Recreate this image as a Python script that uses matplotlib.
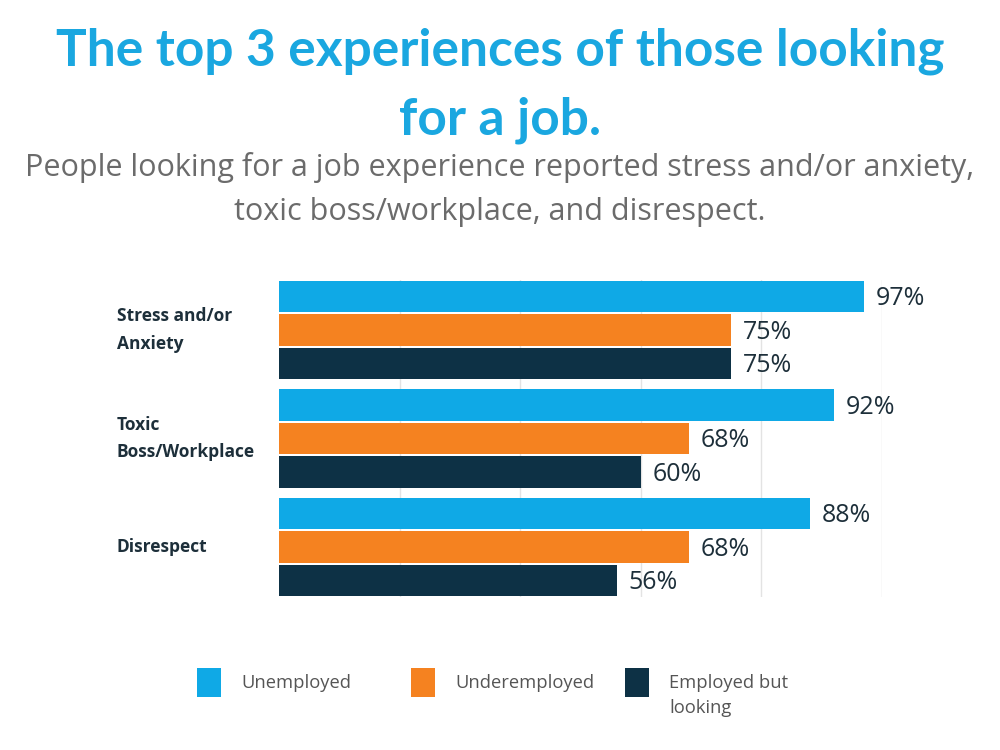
import numpy as np
import matplotlib.pyplot as plt
import matplotlib.transforms as mtransforms
from matplotlib.patches import Rectangle

categories = ["Stress and/or\nAnxiety", "Toxic\nBoss/Workplace", "Disrespect"]
series = ["Unemployed", "Underemployed", "Employed but\nlooking"]
unemployed = [97, 92, 88]
underemployed = [75, 68, 68]
employed_looking = [75, 60, 56]
colors = ["#0fa9e6", "#f58220", "#0d3145"]

values = [unemployed, underemployed, employed_looking]

fig = plt.figure(figsize=(10, 7.5), dpi=100)
ax = fig.add_axes([0.279, 0.204, 0.603, 0.4227])

y = np.arange(len(categories))
offsets = [-0.31, 0.0, 0.31]
h = 0.29
for vals, off, c in zip(values, offsets, colors):
    bars = ax.barh(y + off, vals, height=h, color=c, zorder=3)
    for b, v in zip(bars, vals):
        ax.text(b.get_width() + 2.0, b.get_y() + b.get_height() / 2 + 0.02, f"{v}%",
                va="center", ha="left", fontsize=18, color="#1d2f3a",
                family="Open Sans", zorder=4)

ax.set_xlim(0, 100)
ax.set_ylim(2.46, -0.46)
ax.set_xticks([20, 40, 60, 80, 100])
ax.grid(axis="x", color="#e3e3e3", linewidth=1, zorder=0)
ax.tick_params(left=False, bottom=False, labelleft=False, labelbottom=False)
for s in ax.spines.values():
    s.set_visible(False)

# category labels: x in figure coords, y in data coords
trans = mtransforms.blended_transform_factory(fig.transFigure, ax.transData)
for yi, cat in zip(y, categories):
    ax.text(0.117, yi, cat, transform=trans, ha="left", va="center",
            fontsize=12.5, fontweight="bold", color="#1d2f3a",
            family="Open Sans", linespacing=1.7)

fig.text(0.5, 0.932, "The top 3 experiences of those looking", ha="center", va="center",
         fontsize=37, fontweight="bold", color="#1aa7e0", family="Lato")
fig.text(0.5, 0.84, "for a job.", ha="center", va="center",
         fontsize=37, fontweight="bold", color="#1aa7e0", family="Lato")
fig.text(0.5, 0.777, "People looking for a job experience reported stress and/or anxiety,", ha="center",
         va="center", fontsize=22, color="#6b6b6b", family="Open Sans")
fig.text(0.5, 0.717, "toxic boss/workplace, and disrespect.", ha="center",
         va="center", fontsize=22, color="#6b6b6b", family="Open Sans")

# legend
leg_x = [0.197, 0.411, 0.625]
for lx, name, c in zip(leg_x, series, colors):
    fig.patches.append(Rectangle((lx, 0.071), 0.024, 0.039, transform=fig.transFigure,
                                 facecolor=c, edgecolor="none"))
    fig.text(lx + 0.044, 0.1018, name, ha="left", va="top",
             fontsize=13.2, color="#555555", family="Open Sans", linespacing=1.55)

fig.savefig("out.png", dpi=100)
